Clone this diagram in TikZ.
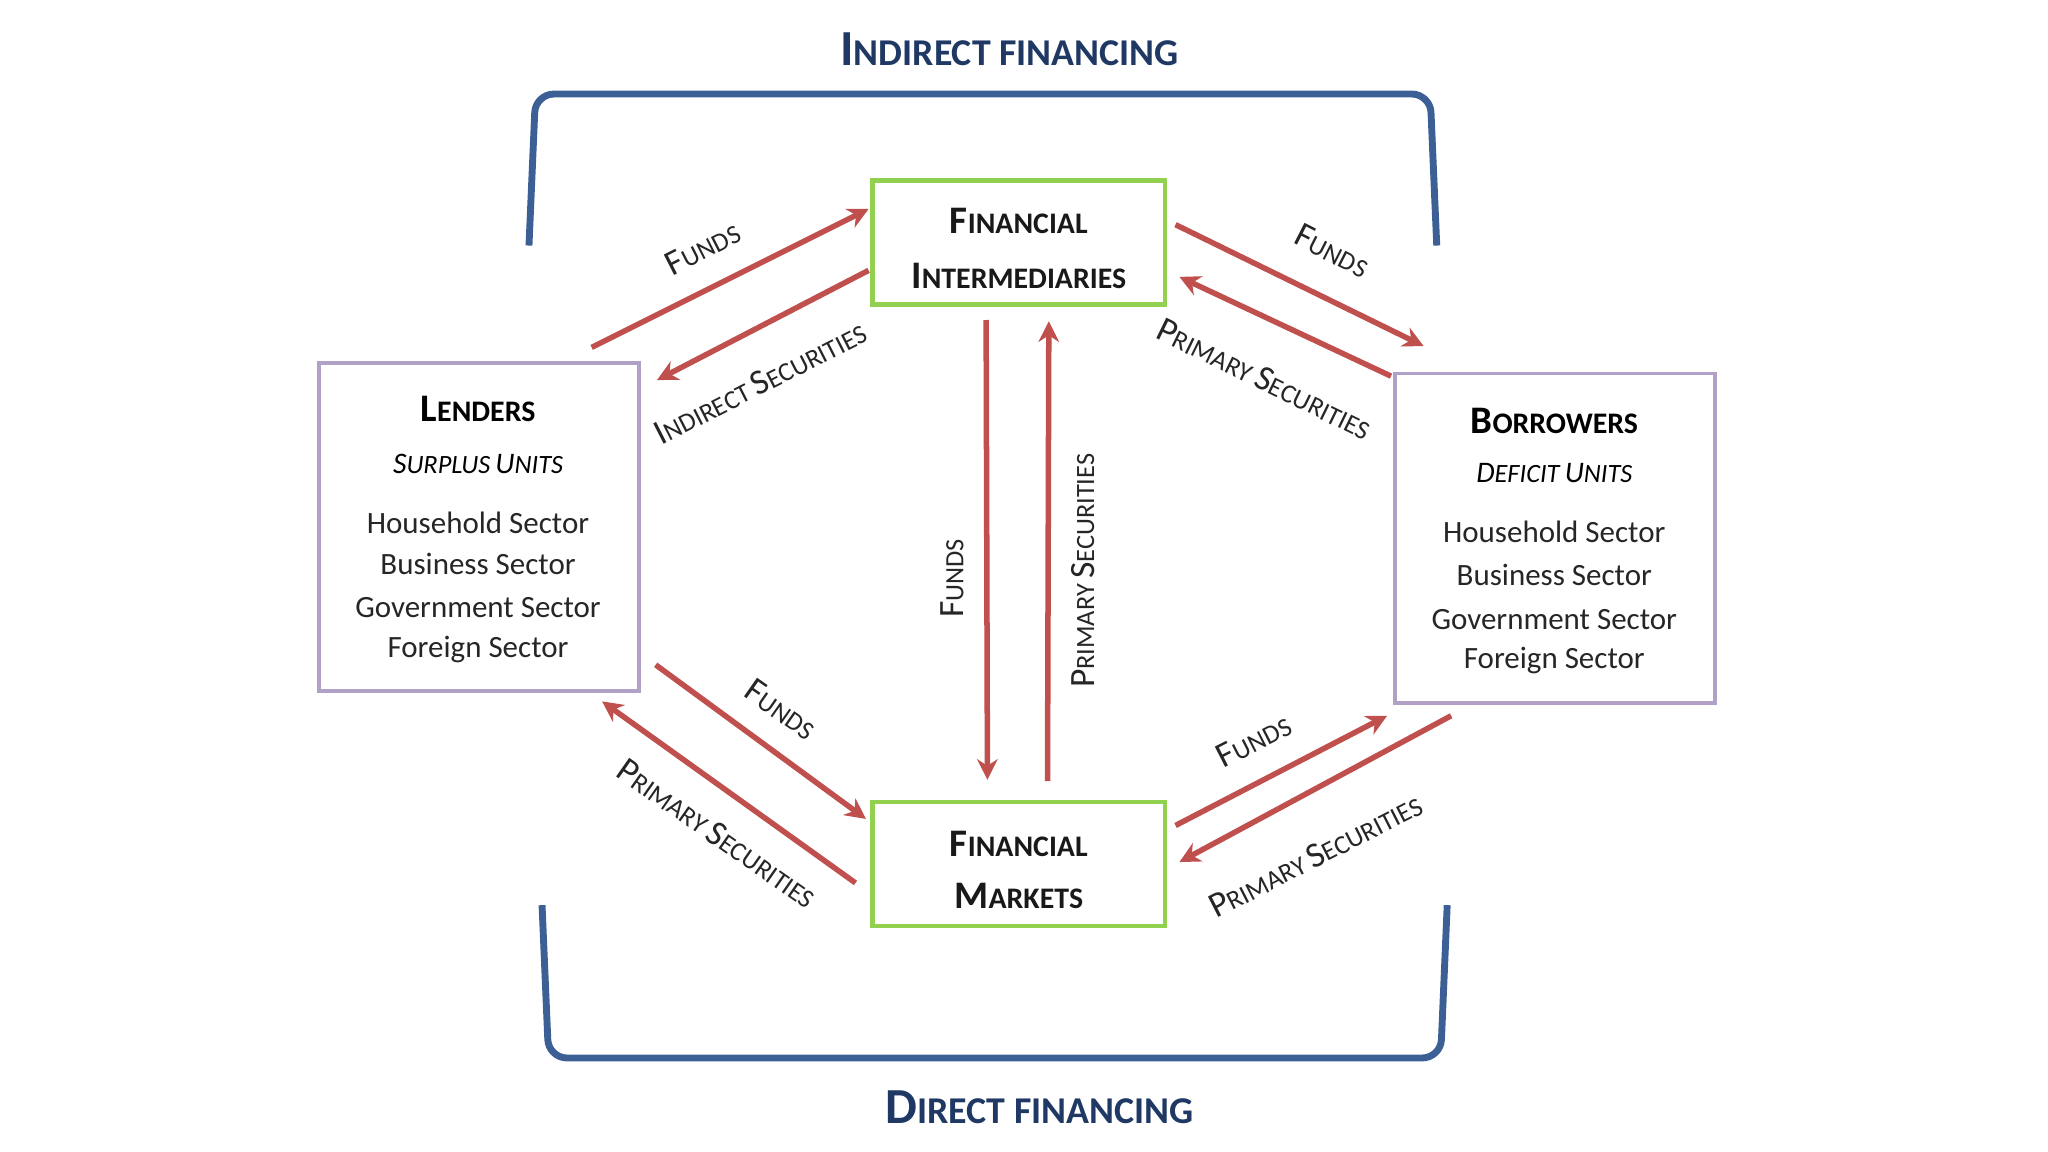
\documentclass[tikz,border=0pt]{standalone}
\usepackage{fontspec}
\setmainfont{Carlito}
\usetikzlibrary{arrows.meta}
\definecolor{navy}{RGB}{31,56,100}
\definecolor{brk}{RGB}{60,96,150}
\definecolor{grn}{RGB}{146,208,80}
\definecolor{pur}{RGB}{178,161,199}
\definecolor{arr}{RGB}{192,80,77}
\newcommand\Bg[1]{{\fontsize{15.5}{15.5}\selectfont #1}}
\newcommand\Sm[1]{{\fontsize{11.5}{11.5}\selectfont #1}}
\newcommand\Tb[1]{{\fontsize{22}{22}\selectfont #1}}
\newcommand\Ts[1]{{\fontsize{16.5}{16.5}\selectfont #1}}
\newcommand\Hb[1]{{\fontsize{17}{17}\selectfont #1}}
\newcommand\Hs[1]{{\fontsize{13}{13}\selectfont #1}}
\tikzset{
 ar/.style={draw=arr,line width=2.4pt,-{Stealth[length=9pt,width=9pt]}},
 lab/.style={text=black!85,inner sep=1pt},
 gbox/.style={draw=grn,line width=2pt,minimum width=4.48cm,minimum height=1.9cm,align=center},
 pbox/.style={draw=pur,line width=1.6pt,minimum width=4.9cm},
 brk/.style={draw=brk,line width=3pt,rounded corners=8pt},
 ttl/.style={text=navy,font=\bfseries},
 body/.style={font=\fontsize{13.5}{13.5}\selectfont,text=black!85}
}
\begin{document}
\begin{tikzpicture}[x=0.02cm,y=-0.02cm]
\useasboundingbox (0,0) rectangle (1568,882);
\fill[white] (0,0) rectangle (1568,882);
% brackets
\draw[brk] (405,188) -- (410,72) -- (1095,72) -- (1100,188);
\draw[brk] (415,693) -- (420,810) -- (1103,810) -- (1108,693);
\node[ttl] (t1) at (773,38) {\Tb{I}\Ts{NDIRECT FINANCING}};
\node[ttl] (t2) at (796,848) {\Tb{D}\Ts{IRECT FINANCING}};
% boxes
\node[gbox] (fi) at (780,185.5) {};
\node[text=black!90,font=\bfseries] (fit) at (780,169) {\Hb{F}\Hs{INANCIAL}};
\node[text=black!90,font=\bfseries] (fib) at (780,211) {\Hb{I}\Hs{NTERMEDIARIES}};
\node[gbox] (fm) at (780,661.5) {};
\node[text=black!90,font=\bfseries] (fmt) at (780,646) {\Hb{F}\Hs{INANCIAL}};
\node[text=black!90,font=\bfseries] (fmb) at (780,686) {\Hb{M}\Hs{ARKETS}};
\node[pbox,minimum height=5.02cm] (len) at (366.5,403.5) {};
\node[pbox,minimum height=5.04cm] (bor) at (1190.5,412) {};
\node[font=\bfseries] (l1) at (366,313) {\Hb{L}\Hs{ENDERS}};
\node[font=\itshape] (l2) at (366,355) {\Hs{S}\Sm{URPLUS} \Hs{U}\Sm{NITS}};
\node[body] (l3) at (366,400) {Household Sector};
\node[body] (l4) at (366,432) {Business Sector};
\node[body] (l5) at (366,465) {Government Sector};
\node[body] (l6) at (366,497) {Foreign Sector};
\node[font=\bfseries] (b1) at (1190,322) {\Hb{B}\Hs{ORROWERS}};
\node[font=\itshape] (b2) at (1190,362) {\Hs{D}\Sm{EFICIT} \Hs{U}\Sm{NITS}};
\node[body] (b3) at (1190,407) {Household Sector};
\node[body] (b4) at (1190,440) {Business Sector};
\node[body] (b5) at (1190,474) {Government Sector};
\node[body] (b6) at (1190,506) {Foreign Sector};
% arrow endpoints
\coordinate (a1) at (453,266); \coordinate (a2) at (665,160);
\coordinate (c1) at (665,207); \coordinate (c2) at (503,291);
\coordinate (d1) at (900,172); \coordinate (d2) at (1090,265);
\coordinate (e1) at (1065,288); \coordinate (e2) at (903,212);
\coordinate (f1) at (755,245); \coordinate (f2) at (756,597);
\coordinate (g1) at (802,598); \coordinate (g2) at (803,246);
\coordinate (h1) at (502,509); \coordinate (h2) at (663,627);
\coordinate (i1) at (655,676); \coordinate (i2) at (461,537);
\coordinate (j1) at (900,632); \coordinate (j2) at (1062,548);
\coordinate (k1) at (1111,548); \coordinate (k2) at (903,660);
\draw[ar] (a1) -- (a2); \draw[ar] (c1) -- (c2);
\draw[ar] (d1) -- (d2); \draw[ar] (e1) -- (e2);
\draw[ar] (f1) -- (f2); \draw[ar] (g1) -- (g2);
\draw[ar] (h1) -- (h2); \draw[ar] (i1) -- (i2);
\draw[ar] (j1) -- (j2); \draw[ar] (k1) -- (k2);
% labels
\node[lab,rotate=27] (la) at (538,190) {\Bg{F}\Sm{UNDS}};
\node[lab,rotate=27] (lc) at (582,293) {\Bg{I}\Sm{NDIRECT} \Bg{S}\Sm{ECURITIES}};
\node[lab,rotate=-27] (ld) at (1020,192) {\Bg{F}\Sm{UNDS}};
\node[lab,rotate=-26] (le) at (968,290) {\Bg{P}\Sm{RIMARY} \Bg{S}\Sm{ECURITIES}};
\node[lab,rotate=90] (lf) at (729,443) {\Bg{F}\Sm{UNDS}};
\node[lab,rotate=90] (lg) at (829,437) {\Bg{P}\Sm{RIMARY} \Bg{S}\Sm{ECURITIES}};
\node[lab,rotate=-35] (lh) at (598,543) {\Bg{F}\Sm{UNDS}};
\node[lab,rotate=-35] (li) at (549,638) {\Bg{P}\Sm{RIMARY} \Bg{S}\Sm{ECURITIES}};
\node[lab,rotate=27] (lj) at (960,567) {\Bg{F}\Sm{UNDS}};
\node[lab,rotate=27] (lk) at (1007,655) {\Bg{P}\Sm{RIMARY} \Bg{S}\Sm{ECURITIES}};
\end{tikzpicture}
\end{document}
